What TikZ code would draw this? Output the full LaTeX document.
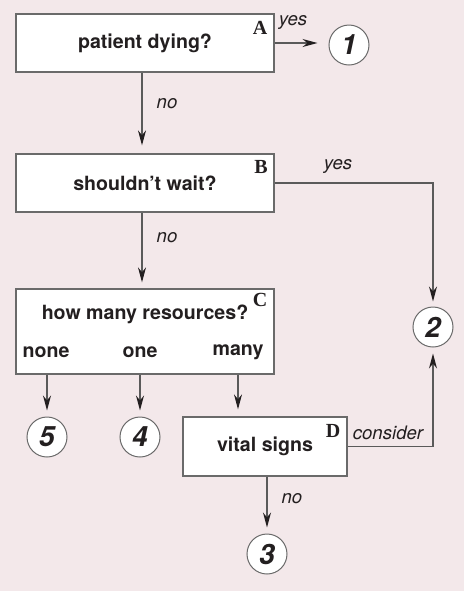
\documentclass[tikz,border=0pt]{standalone}
\usepackage{fontspec}
\setmainfont{TeX Gyre Heros}
\newfontfamily\letterfont{Liberation Serif}
\usetikzlibrary{arrows.meta}
\definecolor{ink}{HTML}{231F20}
\definecolor{bord}{HTML}{6A6A6A}
\definecolor{lin}{HTML}{5A5A5A}
\definecolor{bgc}{HTML}{F3E8EA}
\tikzset{
  box/.style={draw=bord,fill=white,line width=0.65pt,minimum width=129pt,minimum height=29pt,inner sep=0pt,font=\fontsize{9.8}{11}\selectfont\bfseries,text=ink},
  outc/.style={circle,draw=bord,fill=white,line width=0.5pt,minimum size=20pt,inner sep=0pt,font=\fontsize{14}{14}\selectfont\bfseries\itshape,text=ink},
  qtxt/.style={font=\fontsize{9.8}{11}\selectfont\bfseries,text=ink,inner sep=1pt},
  lab/.style={font=\fontsize{9.3}{11}\selectfont\itshape,text=ink,inner sep=1pt},
  tag/.style={font=\fontsize{10}{11}\selectfont\letterfont\bfseries,text=ink,inner sep=0pt},
  flow/.style={-{Stealth[length=7.5pt,width=4pt,color=ink]},line width=0.6pt,lin}
}

\begin{document}
\begin{tikzpicture}[x=0.5pt,y=-0.5pt]
\fill[bgc] (0,0) rectangle (464,591);
\useasboundingbox (0,0) rectangle (464,591);
% ---------------- questions ----------------
\node[box] (a) at (145,43) {patient dying?};
\node[box] (b) at (145,183) {shouldn't wait?};
\node[box,minimum height=42.5pt] (c) at (145,331.5) {};
\node[qtxt] (cq) at (145,314) {how many resources?};
\node[qtxt] (none) at (46,352) {none};
\node[qtxt] (one) at (140,352) {one};
\node[qtxt] (many) at (238,352) {many};
\node[box,minimum width=82pt,minimum height=29.5pt] (d) at (265,446.5) {vital signs};
\node[tag] (ta) at (260,27.5) {A};
\node[tag] (tb) at (261,167) {B};
\node[tag] (tc) at (260,300) {C};
\node[tag] (td) at (333,431) {D};
% ---------------- outcomes ----------------
\node[outc] (o1) at (349,45) {1};
\node[outc] (o2) at (433,327) {2};
\node[outc] (o3) at (267,554) {3};
\node[outc] (o4) at (140,437) {4};
\node[outc] (o5) at (47,437) {5};
% ---------------- connectors ----------------
\draw[flow,shorten >=5.5pt] (a.east) -- (a.east -| o1.west);
\node[lab] (ya) at (293,23) {yes};
\draw[flow,shorten >=4pt] (a.south -| 142,0) -- (b.north -| 142,0);
\node[lab] (na) at (167,104) {no};
\draw[flow,shorten >=2.5pt] (b.east) -- (b.east -| o2) -- (o2.north);
\node[lab] (yb) at (338,167) {yes};
\draw[flow,shorten >=3pt] (b.south -| 142,0) -- (c.north -| 142,0);
\node[lab] (nb) at (167,238) {no};
\draw[flow,shorten >=3pt] (c.south -| o5) -- (o5.north);
\draw[flow,shorten >=3pt] (c.south -| o4) -- (o4.north);
\draw[flow,shorten >=3.5pt] (c.south -| many) -- (d.north -| many);
\draw[flow,shorten >=3pt] (d.east) -- (d.east -| o2) -- (o2.south);
\node[lab] (cons) at (388,433) {consider};
\draw[flow,shorten >=3pt] (d.south -| o3) -- (o3.north);
\node[lab] (nd) at (292,499) {no};
\end{tikzpicture}
\end{document}
